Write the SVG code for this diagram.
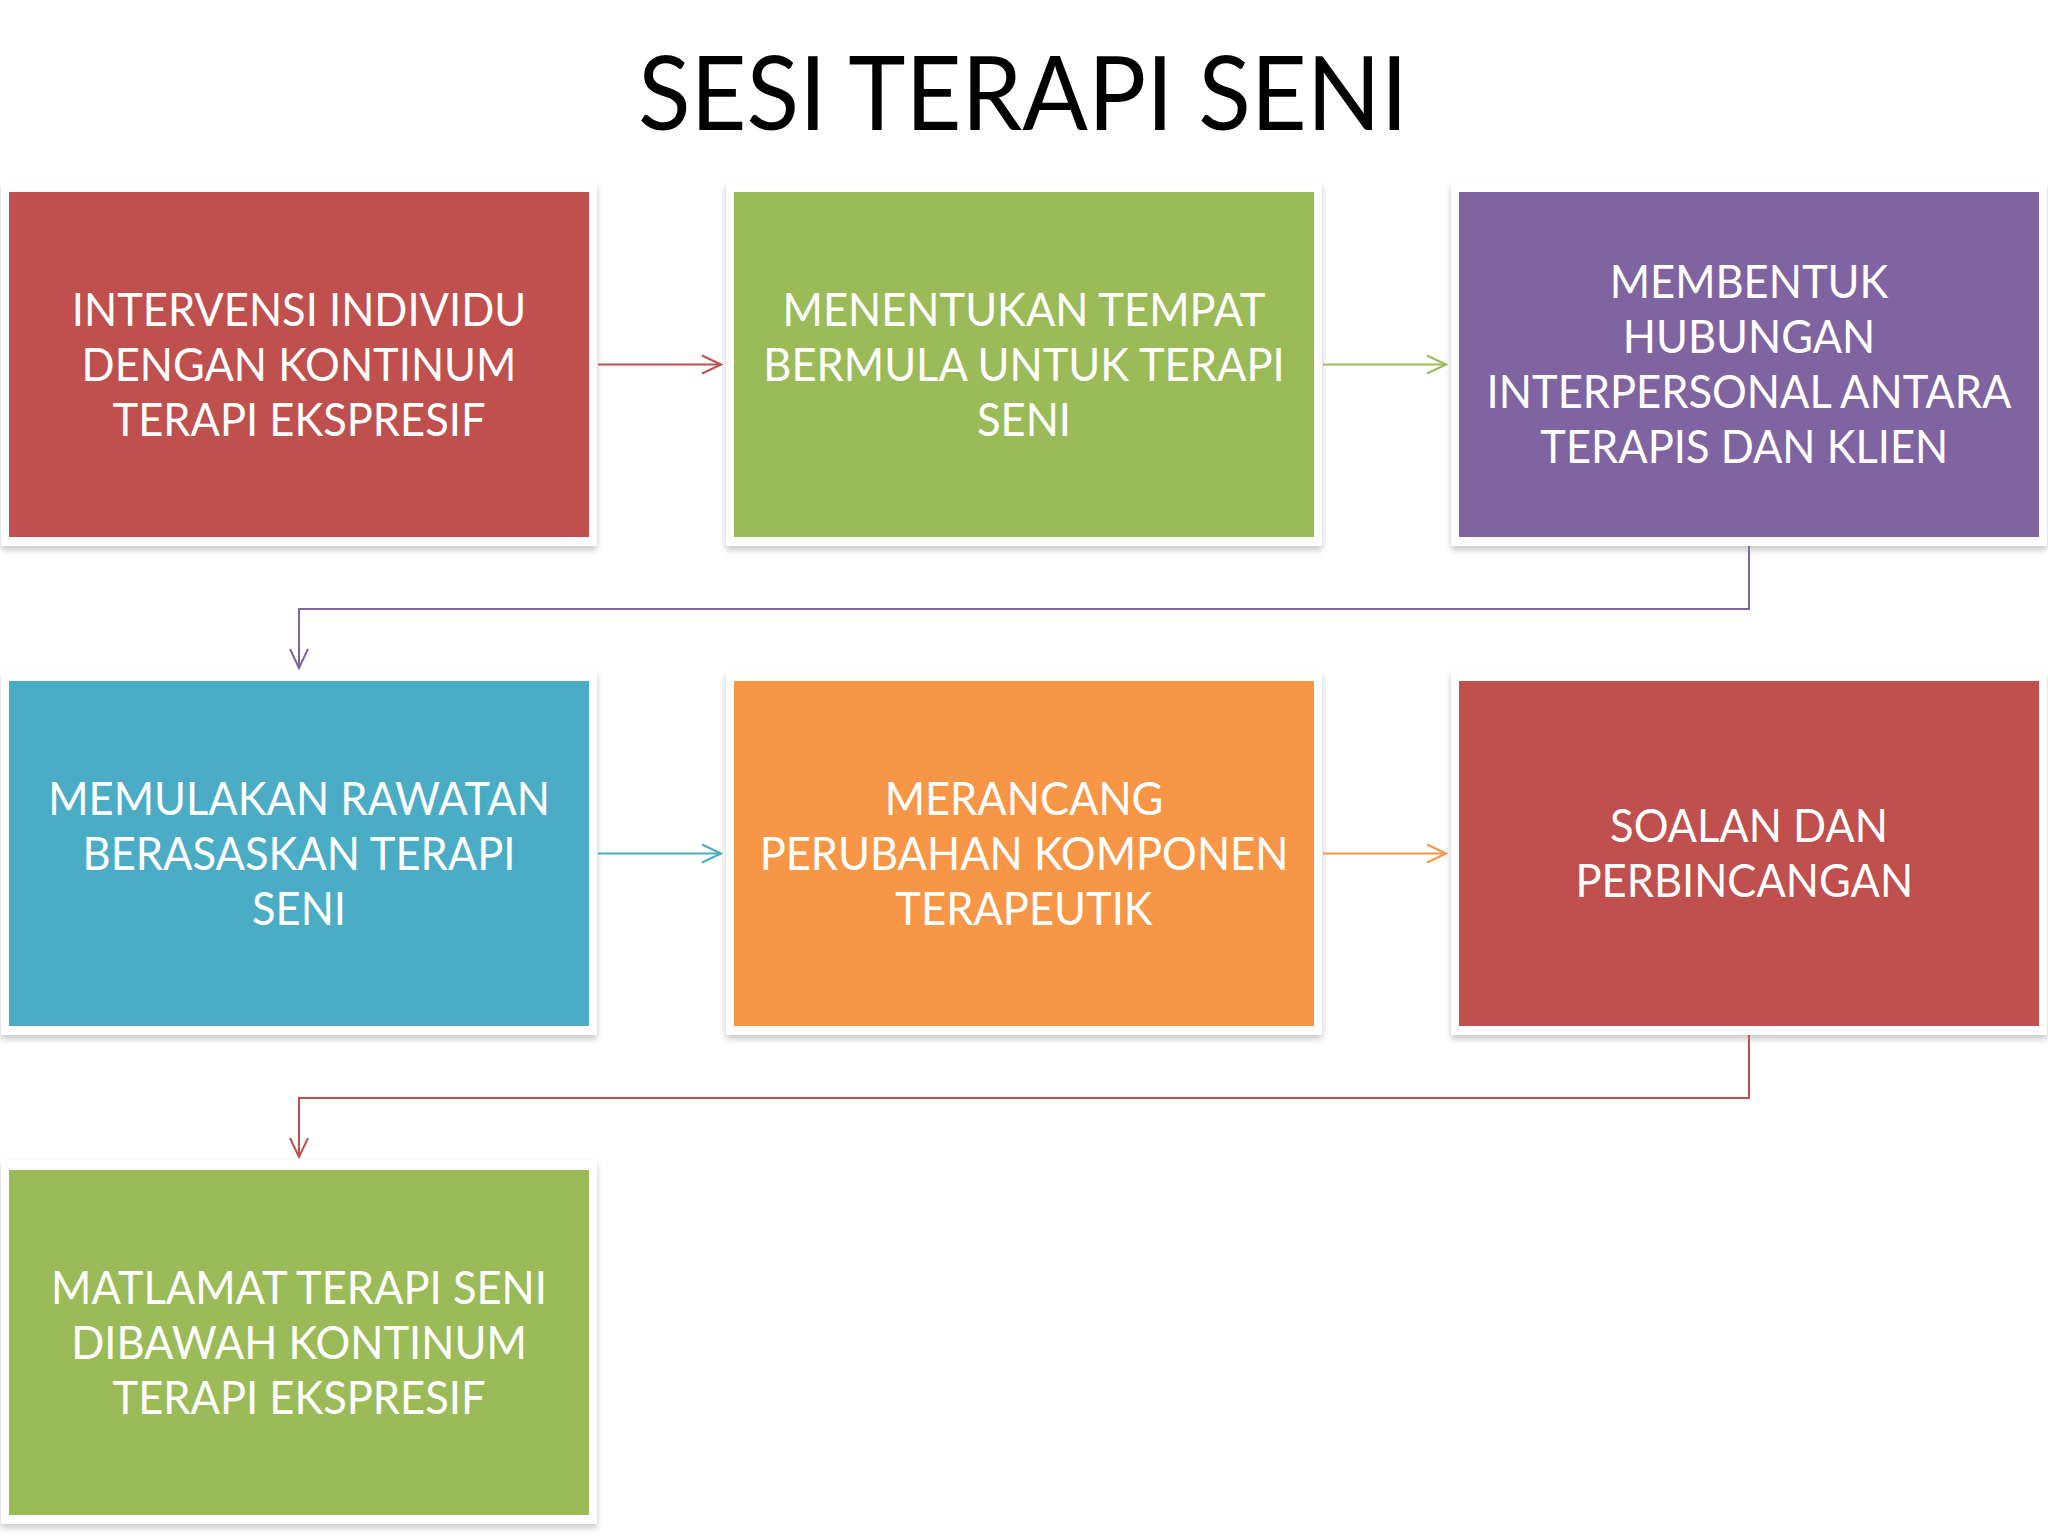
<svg xmlns="http://www.w3.org/2000/svg" width="2048" height="1536" viewBox="0 0 2048 1536">
<defs>
<filter id="sh" x="-5%" y="-5%" width="110%" height="115%">
<feDropShadow dx="0" dy="4" stdDeviation="3" flood-color="#000" flood-opacity="0.22"/>
</filter>
<marker id="arR" viewBox="0 0 22 22" markerWidth="22" markerHeight="22" refX="20" refY="11" orient="auto" markerUnits="userSpaceOnUse"><path d="M1,2 L20,11 L1,20" fill="none" stroke="#C0504D" stroke-width="2"/></marker>
<marker id="arG" viewBox="0 0 22 22" markerWidth="22" markerHeight="22" refX="20" refY="11" orient="auto" markerUnits="userSpaceOnUse"><path d="M1,2 L20,11 L1,20" fill="none" stroke="#9BBB59" stroke-width="2"/></marker>
<marker id="arP" viewBox="0 0 22 22" markerWidth="22" markerHeight="22" refX="20" refY="11" orient="auto" markerUnits="userSpaceOnUse"><path d="M1,2 L20,11 L1,20" fill="none" stroke="#8064A2" stroke-width="2"/></marker>
<marker id="arB" viewBox="0 0 22 22" markerWidth="22" markerHeight="22" refX="20" refY="11" orient="auto" markerUnits="userSpaceOnUse"><path d="M1,2 L20,11 L1,20" fill="none" stroke="#4BACC6" stroke-width="2"/></marker>
<marker id="arO" viewBox="0 0 22 22" markerWidth="22" markerHeight="22" refX="20" refY="11" orient="auto" markerUnits="userSpaceOnUse"><path d="M1,2 L20,11 L1,20" fill="none" stroke="#F79646" stroke-width="2"/></marker>
</defs>
<style>
.frame{fill:#ffffff;filter:url(#sh)}
.lbl{font-family:Lato,"Liberation Sans",sans-serif;font-size:46px;fill:#ffffff;text-anchor:middle}
.title{font-family:Lato,"Liberation Sans",sans-serif;font-size:102px;fill:#000000;text-anchor:middle}
.con{fill:none;stroke-width:2}
</style>
<rect width="2048" height="1536" fill="#ffffff"/>
<text class="title" x="1023" y="130" textLength="770" lengthAdjust="spacingAndGlyphs">SESI TERAPI SENI</text>

<g id="node1">
<rect class="frame" x="1" y="182" width="596" height="364"/>
<rect x="9" y="192" width="580" height="345" fill="#C0504D"/>
<g transform="translate(299,0) scale(0.945,1)">
<text class="lbl" x="0" y="326">INTERVENSI INDIVIDU</text>
<text class="lbl" x="0" y="381">DENGAN KONTINUM</text>
<text class="lbl" x="0" y="436">TERAPI EKSPRESIF</text>
</g>
</g>
<g id="node2">
<rect class="frame" x="726" y="182" width="596" height="364"/>
<rect x="734" y="192" width="580" height="345" fill="#9BBB59"/>
<g transform="translate(1024,0) scale(0.945,1)">
<text class="lbl" x="0" y="326">MENENTUKAN TEMPAT</text>
<text class="lbl" x="0" y="381">BERMULA UNTUK TERAPI</text>
<text class="lbl" x="0" y="436">SENI</text>
</g>
</g>
<g id="node3">
<rect class="frame" x="1451" y="182" width="596" height="364"/>
<rect x="1459" y="192" width="580" height="345" fill="#8064A2"/>
<g transform="translate(1749,0) scale(0.945,1)">
<text class="lbl" x="0" y="298.5">MEMBENTUK</text>
<text class="lbl" x="0" y="353.5">HUBUNGAN</text>
<text class="lbl" x="0" y="408.5">INTERPERSONAL ANTARA</text>
<text class="lbl" x="-5" y="463.5">TERAPIS DAN KLIEN</text>
</g>
</g>
<g id="node4">
<rect class="frame" x="1" y="671" width="596" height="364"/>
<rect x="9" y="681" width="580" height="345" fill="#4BACC6"/>
<g transform="translate(299,0) scale(0.945,1)">
<text class="lbl" x="0" y="815">MEMULAKAN RAWATAN</text>
<text class="lbl" x="0" y="870">BERASASKAN TERAPI</text>
<text class="lbl" x="0" y="925">SENI</text>
</g>
</g>
<g id="node5">
<rect class="frame" x="726" y="671" width="596" height="364"/>
<rect x="734" y="681" width="580" height="345" fill="#F79646"/>
<g transform="translate(1024,0) scale(0.945,1)">
<text class="lbl" x="0" y="815">MERANCANG</text>
<text class="lbl" x="0" y="870">PERUBAHAN KOMPONEN</text>
<text class="lbl" x="0" y="925">TERAPEUTIK</text>
</g>
</g>
<g id="node6">
<rect class="frame" x="1451" y="671" width="596" height="364"/>
<rect x="1459" y="681" width="580" height="345" fill="#C0504D"/>
<g transform="translate(1749,0) scale(0.945,1)">
<text class="lbl" x="0" y="842.5">SOALAN DAN</text>
<text class="lbl" x="-5" y="897.5">PERBINCANGAN</text>
</g>
</g>
<g id="node7">
<rect class="frame" x="1" y="1160" width="596" height="364"/>
<rect x="9" y="1170" width="580" height="345" fill="#9BBB59"/>
<g transform="translate(299,0) scale(0.945,1)">
<text class="lbl" x="0" y="1304">MATLAMAT TERAPI SENI</text>
<text class="lbl" x="0" y="1359">DIBAWAH KONTINUM</text>
<text class="lbl" x="0" y="1414">TERAPI EKSPRESIF</text>
</g>
</g>

<g id="connectors">
<path class="con" stroke="#C0504D" d="M598,364.5 H721" marker-end="url(#arR)"/>
<path class="con" stroke="#9BBB59" d="M1323,364.5 H1446" marker-end="url(#arG)"/>
<path class="con" stroke="#8064A2" d="M1749,546 V609 H299 V668" marker-end="url(#arP)"/>
<path class="con" stroke="#4BACC6" d="M598,853.5 H721" marker-end="url(#arB)"/>
<path class="con" stroke="#F79646" d="M1323,853.5 H1446" marker-end="url(#arO)"/>
<path class="con" stroke="#C0504D" d="M1749,1035 V1098 H299 V1157" marker-end="url(#arR)"/>
</g>
</svg>
